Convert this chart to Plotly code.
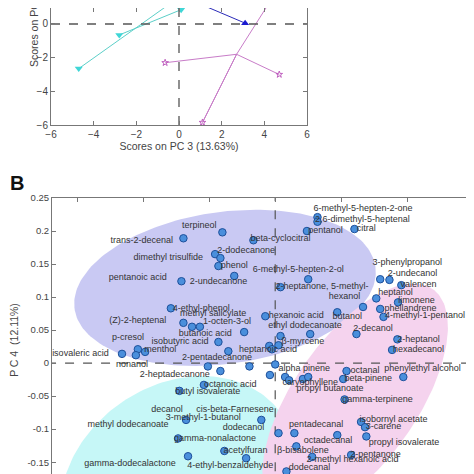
import numpy as np
import plotly.graph_objects as go

# ---------- Panel A data ----------
a_cyan_x = [-4.7, -2.8, -0.65, 0.1]
a_cyan_y = [-2.65, -0.65, 1.0, 0.85]
a_cyan_seg1_x = [-4.7, -0.65]; a_cyan_seg1_y = [-2.65, 1.0]
a_cyan_seg2_x = [-2.8, 0.1]; a_cyan_seg2_y = [-0.65, 0.85]
a_blue_x = [0.3, 3.1]; a_blue_y = [1.3, 0.05]
a_blue_line_x = [0.5, 3.1]; a_blue_line_y = [1.45, 0.05]
a_pink_x = [-0.65, 4.7, 1.1]; a_pink_y = [-2.3, -3.0, -5.85]
a_pink_center = (2.7, -1.8)
a_pink_top = (4.4, 1.6)

# ---------- Panel B data ----------
pts_x = [-0.080,-0.139,-0.091,-0.083,-0.086,-0.142,-0.062,-0.158,-0.139,-0.126,-0.114,-0.047,-0.086,
         -0.208,-0.211,-0.197,-0.232,-0.071,-0.102,-0.083,-0.039,0.000,-0.008,-0.108,-0.145,-0.135,
         -0.021,-0.147,-0.077,-0.132,-0.044,0.005,0.029,0.064,0.064,0.048,0.120,-0.033,0.050,0.008,
         0.159,0.173,0.191,0.153,0.186,0.133,0.159,0.164,0.094,-0.015,0.008,0.053,-0.009,0.005,-0.005,
         0.123,0.185,0.177,0.015,0.021,0.042,0.050,0.108,0.103,0.194,0.105,0.130,0.136,0.138,0.094,
         0.032,0.115,0.056,0.017]
pts_y = [0.198,0.189,0.165,0.159,0.147,0.124,0.132,0.083,0.061,0.055,0.055,0.047,0.032,
         0.021,0.012,0.017,0.014,0.018,-0.005,-0.012,-0.005,-0.002,-0.018,-0.033,-0.042,-0.086,
         -0.086,-0.114,-0.133,-0.141,-0.144,-0.106,-0.106,0.221,0.214,0.200,0.203,0.186,0.127,0.115,
         0.127,0.126,0.118,0.098,0.092,0.085,0.082,0.070,0.077,0.071,0.041,0.044,0.026,0.027,0.021,
         0.044,0.036,0.020,-0.021,-0.026,-0.024,-0.021,-0.012,-0.024,-0.021,-0.055,-0.089,-0.097,-0.111,-0.109,
         -0.126,-0.139,-0.142,-0.164]

labels = ["terpineol","trans-2-decenal","dimethyl trisulfide","2-dodecanone","phenol","pentanoic acid",
          "2-undecanone","4-ethyl-phenol","methyl salicylate","(Z)-2-heptenal","1-octen-3-ol","butanoic acid",
          "isobutyric acid","p-cresol","menthol","isovaleric acid","nonanol","heptanoic acid","2-pentadecanone",
          "2-heptadecanone","octanoic acid","butyl isovalerate","decanol","cis-beta-Farnesene","3-methyl-1-butanol",
          "methyl dodecanoate","dodecanol","gamma-nonalactone","acetylfuran","gamma-dodecalactone",
          "4-ethyl-benzaldehyde","6-methyl-5-hepten-2-one","2,6-dimethyl-5-heptenal","pentanol","citral",
          "beta-cyclocitral","6-methyl-5-hepten-2-ol","2-heptanone, 5-methyl-","hexanol","3-phenylpropanol",
          "2-undecanol","valencen","heptanol","limonene","phellandrene","4-methyl-1-pentanol","butanol",
          "hexanoic acid","ethyl dodecanoate","β-myrcene","2-decanol","2-heptanol","hexadecanol","alpha pinene",
          "caryophyllene","propyl butanoate","octanal","beta-pinene","phenylethyl alcohol","gamma-terpinene",
          "isobornyl acetate","3-carene","propyl isovalerate","pentadecanal","octadecanal","β-bisabolene",
          "2-pentanone","2-methyl hexanoic acid","dodecanal"]
lab_x = [-0.115,-0.202,-0.162,-0.044,-0.062,-0.208,-0.086,-0.112,-0.094,-0.208,-0.073,-0.106,
         -0.144,-0.223,-0.174,-0.295,-0.217,-0.011,-0.088,-0.152,-0.068,-0.102,-0.164,-0.061,-0.109,
         -0.223,-0.048,-0.091,-0.045,-0.220,-0.068,0.133,0.132,0.076,0.138,0.008,0.035,0.071,0.105,0.200,
         0.208,0.217,0.182,0.214,0.205,0.227,0.109,0.032,0.045,0.042,0.148,0.217,0.217,0.044,0.053,0.083,
         0.136,0.141,0.223,0.155,0.179,0.164,0.195,0.062,0.080,0.042,0.152,0.117,0.052]
lab_y = [0.208,0.185,0.159,0.170,0.147,0.129,0.123,0.083,0.074,0.064,0.062,0.045,0.033,0.039,0.020,
         0.014,-0.002,0.020,0.008,-0.018,-0.032,-0.044,-0.071,-0.071,-0.083,-0.094,-0.098,-0.114,-0.132,
         -0.152,-0.155,0.233,0.217,0.200,0.203,0.188,0.141,0.115,0.100,0.152,0.136,0.118,0.106,0.094,0.083,
         0.071,0.070,0.071,0.056,0.033,0.052,0.036,0.021,-0.008,-0.029,-0.039,-0.011,-0.023,-0.008,-0.056,
         -0.085,-0.097,-0.121,-0.094,-0.117,-0.133,-0.139,-0.147,-0.159]

# ellipses: center x, center y, semi-major, semi-minor, angle(deg)
ell_blue = (-0.076, 0.114, 0.23, 0.115, 8)
ell_cyan = (-0.147, -0.185, 0.19, 0.152, 35)
ell_pink = (0.121, -0.056, 0.205, 0.094, 55)

def ellipse(cx, cy, a, b, ang):
    t = np.linspace(0, 2*np.pi, 200)
    r = np.deg2rad(ang)
    x = cx + a*np.cos(t)*np.cos(r) - b*np.sin(t)*np.sin(r)
    y = cy + a*np.cos(t)*np.sin(r) + b*np.sin(t)*np.cos(r)
    return x, y

W = 474
fig = go.Figure()
font = "Liberation Sans, Arial, sans-serif"

# Panel A
cy_col = "#3fd6d6"
fig.add_trace(go.Scatter(x=a_cyan_seg1_x, y=a_cyan_seg1_y, mode="lines", line=dict(color="#5ccfc8", width=1), xaxis="x", yaxis="y"))
fig.add_trace(go.Scatter(x=a_cyan_seg2_x, y=a_cyan_seg2_y, mode="lines", line=dict(color="#5ccfc8", width=1), xaxis="x", yaxis="y"))
fig.add_trace(go.Scatter(x=a_cyan_x, y=a_cyan_y, mode="markers", marker=dict(symbol="triangle-down", size=7, color=cy_col), cliponaxis=False, xaxis="x", yaxis="y"))
fig.add_trace(go.Scatter(x=a_blue_line_x, y=a_blue_line_y, mode="lines", line=dict(color="#2a2ab8", width=1), xaxis="x", yaxis="y"))
fig.add_trace(go.Scatter(x=a_blue_x, y=a_blue_y, mode="markers", marker=dict(symbol="triangle-up", size=7, color="#1a1ad0"), cliponaxis=False, xaxis="x", yaxis="y"))
for px, py in zip(a_pink_x, a_pink_y):
    fig.add_trace(go.Scatter(x=[a_pink_center[0], px], y=[a_pink_center[1], py], mode="lines", line=dict(color="#c87cc8", width=1), xaxis="x", yaxis="y"))
fig.add_trace(go.Scatter(x=[a_pink_x[2], a_pink_center[0], a_pink_top[0]], y=[a_pink_y[2], a_pink_center[1], a_pink_top[1]], mode="lines", line=dict(color="#c87cc8", width=1), xaxis="x", yaxis="y"))
fig.add_trace(go.Scatter(x=a_pink_x, y=a_pink_y, mode="markers", marker=dict(symbol="star-open", size=5, color="#c060c0"), xaxis="x", yaxis="y"))
fig.add_trace(go.Scatter(x=[-6, 6], y=[0, 0], mode="lines", line=dict(color="#555", width=1.3, dash="dash"), xaxis="x", yaxis="y"))
fig.add_trace(go.Scatter(x=[0, 0], y=[-6, 6], mode="lines", line=dict(color="#555", width=1.3, dash="dash"), xaxis="x", yaxis="y"))

# Panel B
for e, c in [(ell_blue, "#c9c9f3"), (ell_cyan, "#c6f7f7"), (ell_pink, "#f5d3ee")]:
    ex, ey = ellipse(*e)
    fig.add_trace(go.Scatter(x=ex, y=ey, mode="lines", fill="toself", fillcolor=c, line=dict(width=0), xaxis="x2", yaxis="y2"))
fig.add_trace(go.Scatter(x=[-0.4, 0.4], y=[0, 0], mode="lines", line=dict(color="#555", width=1.2, dash="dash"), xaxis="x2", yaxis="y2"))
fig.add_trace(go.Scatter(x=[0, 0], y=[-0.3, 0.3], mode="lines", line=dict(color="#555", width=1.2, dash="dash"), xaxis="x2", yaxis="y2"))
fig.add_trace(go.Scatter(x=pts_x, y=pts_y, mode="markers", marker=dict(size=7.5, color="#4a8fdc", line=dict(color="#1d4f9a", width=1)), xaxis="x2", yaxis="y2"))
fig.add_trace(go.Scatter(x=lab_x, y=lab_y, mode="text", text=labels, textposition="middle center",
                         textfont=dict(family=font, size=9, color="#333"), cliponaxis=False, xaxis="x2", yaxis="y2"))

ax_common = dict(showgrid=False, zeroline=False, showline=True, linecolor="#777", mirror="ticks", automargin=False,
                 ticks="inside", ticklen=4, tickcolor="#777", tickfont=dict(family=font, size=10, color="#444"))
fig.update_layout(
    width=W, height=W, margin=dict(l=0, r=0, t=0, b=0), showlegend=False,
    plot_bgcolor="white", paper_bgcolor="white",
    xaxis=dict(domain=[43/W, 299/W], range=[-6, 6], tickvals=[-6,-4,-2,0,2,4,6], anchor="y",
               title=dict(text="Scores on PC 3 (13.63%)", font=dict(family=font, size=10.5, color="#444"), standoff=2), **ax_common),
    yaxis=dict(domain=[1-117/W, 1], range=[-6, 0.95], tickvals=[-6,-4,-2,0], anchor="x", **ax_common),
    xaxis2=dict(domain=[44/W, 464/W], range=[-0.338, 0.298], tickvals=[-0.3,-0.2,-0.1,0,0.1,0.2],
                showticklabels=False, anchor="y2", **ax_common),
    yaxis2=dict(domain=[0, 1-190/W], range=[-0.180, 0.25], tickvals=[-0.15,-0.1,-0.05,0,0.05,0.1,0.15,0.2,0.25],
                ticktext=["-0.15","-0.1","-0.05","0","0.05","0.1","0.15","0.2","0.25"], anchor="x2",
                title=dict(text="P C 4  (12.11%)", font=dict(family=font, size=10.5, color="#444"), standoff=8), **ax_common),
)
fig.update_yaxes(tickfont=dict(size=9.5), selector=dict(anchor="x2"))
fig.add_annotation(text="Scores on PC 4 (12.11%)", x=26/W, y=1, xref="paper", yref="paper", textangle=-90,
                   showarrow=False, font=dict(family=font, size=10.5, color="#444"), xanchor="center", yanchor="middle")
fig.add_annotation(text="<b>B</b>", x=0, y=1-175/W, xref="paper", yref="paper", showarrow=False,
                   font=dict(family=font, size=20, color="#111"), xanchor="left", yanchor="middle")
fig.write_html("out.html")
